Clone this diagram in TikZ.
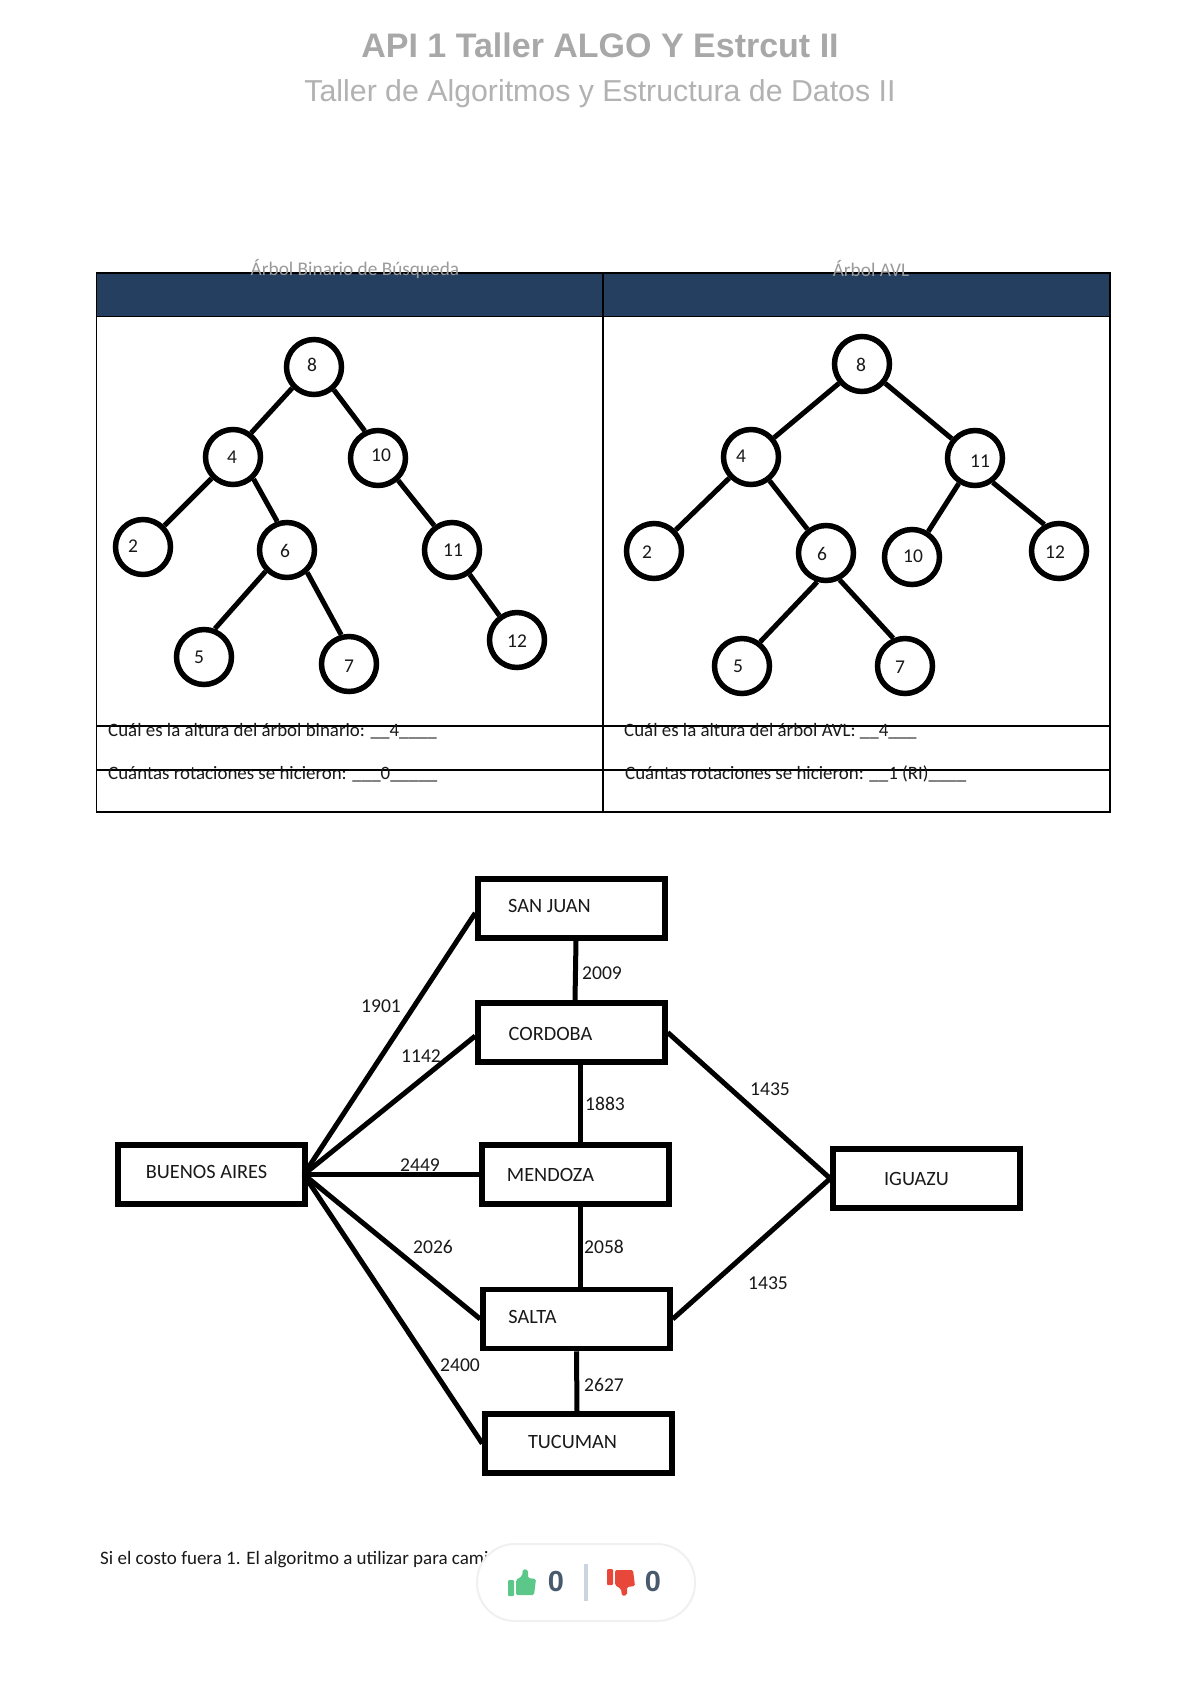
\documentclass[tikz,border=0pt]{standalone}
\usepackage{fontspec}
\setmainfont{Carlito}
\newfontfamily\ttlfont{Liberation Sans}
\newcommand\fsz[1]{\fontsize{#1}{#1}\selectfont}
\newcommand\sh[3]{\smash{\raisebox{\dimexpr #2pt-0.32em\relax}{\makebox[0pt]{\hspace{#1pt}\hspace{#1pt}#3}}}}
\definecolor{navy}{HTML}{243F5F}
\definecolor{ttlgrey}{HTML}{A8A8A8}
\definecolor{subgrey}{HTML}{B2B2B2}
\definecolor{hdrgrey}{HTML}{9A9A9A}
\definecolor{upgreen}{HTML}{5BC88A}
\definecolor{downred}{HTML}{E8483A}
\definecolor{slate}{HTML}{475A6E}
\definecolor{divcol}{HTML}{CBD5E1}
\tikzset{
  treenode/.style={circle,draw=black,line width=5.5pt,fill=white,inner sep=0pt,minimum size=55pt,font=\fsz{19.5},text=black!90},
  treeedge/.style={line width=5pt,black},
  citybox/.style={rectangle,draw=black,line width=5.5pt,fill=white,inner sep=0pt,minimum width=187pt,minimum height=59pt,font=\fsz{20.3},text=black!90},
  road/.style={line width=5pt,black},
  weight/.style={font=\fsz{19.6},text=black!90,inner sep=0pt},
  rowtext/.style={anchor=west,font=\fsz{18.9},text=black!90,inner sep=0pt},
  headtext/.style={font=\fsz{19.3},text=hdrgrey,inner sep=0pt},
  tabline/.style={line width=1.6pt,black},
  rowline/.style={line width=2.6pt,black},
}
\begin{document}
\begin{tikzpicture}[x=1pt,y=-1pt]
\fill[white] (0,0) rectangle (1200,1698);
\useasboundingbox (0,0) rectangle (1200,1698);
% titles
\node[font=\ttlfont\bfseries\fsz{34},text=ttlgrey,inner sep=0pt] (title) at (600,45) {API 1 Taller ALGO Y Estrcut II};
\node[font=\ttlfont\fsz{30.3},text=subgrey,inner sep=0pt] (subtitle) at (600,93.5) {Taller de Algoritmos y Estructura de Datos II};
% table
\fill[navy] (96.5,273) rectangle (1110,316.5);
\draw[tabline] (96.5,273) rectangle (1110,812);
\draw[tabline] (603,273) -- (603,812);
\draw[tabline] (96.5,316.5) -- (1110,316.5);
\draw[rowline] (96.5,726) -- (1110,726);
\draw[rowline] (96.5,770) -- (1110,770);
\node[headtext] (h1) at (355,269) {Árbol Binario de Búsqueda};
\node[headtext] (h2) at (871,269) {Árbol AVL};
\node[rowtext] (q1) at (108,731) {Cuál es la altura del árbol binario: \_\_4\_\_\_\_};
\node[rowtext] (q2) at (108,774) {Cuántas rotaciones se hicieron: \_\_\_0\_\_\_\_\_};
\node[rowtext] (q3) at (624,731) {Cuál es la altura del árbol AVL: \_\_4\_\_\_};
\node[rowtext] (q4) at (625,774) {Cuántas rotaciones se hicieron: \_\_1 (RI)\_\_\_\_};
% BST
\node[treenode] (a8) at (314,367) {\sh{-2}{2}{8}};
\node[treenode] (a4) at (233,457) {\sh{-1}{0}{4}};
\node[treenode] (a10) at (378,458) {\sh{3}{3}{10}};
\node[treenode] (a2) at (143,547) {\sh{-10}{1}{2}};
\node[treenode] (a6) at (287,550) {\sh{-2}{-1}{6}};
\node[treenode] (a11) at (452,550) {\sh{1}{0}{11}};
\node[treenode] (a5) at (204,657) {\sh{-5}{0}{5}};
\node[treenode] (a7) at (349,664) {\sh{0}{-2}{7}};
\node[treenode] (a12) at (517,640) {\sh{0}{-1}{12}};
\draw[treeedge] (a8.224) -- (a4.53);
\draw[treeedge] (a8.311) -- (a10.116);
\draw[treeedge] (a4) -- (a2);
\draw[treeedge] (a4.313) -- (a6.109);
\draw[treeedge] (a10.312) -- (a11.126);
\draw[treeedge] (a6.225) -- (a5.69);
\draw[treeedge] (a6.312) -- (a7.105);
\draw[treeedge] (a11) -- (a12);
% AVL
\node[treenode] (b8) at (862,364) {\sh{-1}{-1}{8}};
\node[treenode] (b4) at (751,457) {\sh{-10}{1}{4}};
\node[treenode] (b11) at (975,458) {\sh{5}{-3}{11}};
\node[treenode] (b2) at (654,551) {\sh{-7}{-1}{2}};
\node[treenode] (b6) at (826,553) {\sh{-4}{-1}{6}};
\node[treenode] (b10) at (912,557) {\sh{1}{1}{10}};
\node[treenode] (b12) at (1059,551) {\sh{-4}{-1}{12}};
\node[treenode] (b5) at (742,666) {\sh{-4}{0}{5}};
\node[treenode] (b7) at (905,666) {\sh{-5}{-1}{7}};
\draw[treeedge] (b8) -- (b4);
\draw[treeedge] (b8) -- (b11);
\draw[treeedge] (b4) -- (b2);
\draw[treeedge] (b4) -- (b6);
\draw[treeedge] (b11) -- (b10);
\draw[treeedge] (b11.306) -- (b12.119);
\draw[treeedge] (b6.253) -- (b5.53);
\draw[treeedge] (b6.297) -- (b7.113);
% graph boxes
\node[citybox] (sj) at (571.5,908.5) {\sh{-22}{3}{SAN JUAN}};
\node[citybox] (co) at (571.5,1032.5) {\sh{-21}{-1}{CORDOBA}};
\node[citybox] (me) at (575.5,1174.5) {\sh{-25}{0}{MENDOZA}};
\node[citybox] (sa) at (576.5,1319) {\sh{-44}{2}{SALTA}};
\node[citybox] (tu) at (578.5,1443.5) {\sh{-6}{2}{TUCUMAN}};
\node[citybox] (ba) at (211.5,1174.5) {\sh{-5}{3}{BUENOS AIRES}};
\node[citybox] (ig) at (926.5,1178.5) {\sh{-10}{0}{IGUAZU}};
% roads
\draw[road] ([xshift=-4pt]ba.east) -- ([yshift=-4.5pt]sj.west);
\draw[road] ([xshift=-4pt]ba.east) -- ([yshift=-3.5pt]co.west);
\draw[road] ([xshift=-4pt]ba.east) -- (me.west);
\draw[road] ([xshift=-4pt]ba.east) -- (sa.west);
\draw[road] ([xshift=-4pt]ba.east) -- (tu.west);
\draw[road] ([xshift=4.5pt]sj.south) -- ([xshift=3.5pt]co.north);
\draw[road] ([xshift=8.5pt]co.south) -- ([xshift=4.5pt]me.north);
\draw[road] ([xshift=4.5pt]me.south) -- ([xshift=3.5pt]sa.north);
\draw[road] (sa.south) -- ([xshift=-1.5pt]tu.north);
\draw[road] (co.east) -- (ig.west);
\draw[road] (sa.east) -- (ig.west);
% weights
\node[weight] (w1) at (381,1006) {1901};
\node[weight] (w2) at (421,1056) {1142};
\node[weight] (w3) at (420,1165) {2449};
\node[weight] (w4) at (433,1247) {2026};
\node[weight] (w5) at (460,1365) {2400};
\node[weight] (w6) at (602,973) {2009};
\node[weight] (w7) at (605,1104) {1883};
\node[weight] (w8) at (604,1247) {2058};
\node[weight] (w9) at (604,1385) {2627};
\node[weight] (w10) at (770,1089) {1435};
\node[weight] (w11) at (768,1283) {1435};
% footer
\node[anchor=west,font=\fsz{19},text=black!90,inner sep=0pt] (foot) at (100,1560) {Si el costo fuera 1. El algoritmo a utilizar para cami};
% reaction pill
\node[draw=black!6,line width=2pt,fill=white,rounded corners=38pt,minimum width=218pt,minimum height=77pt,inner sep=0pt] (pill) at (586,1582.5) {};
\begin{scope}[shift={(522,1583)}]
  \fill[upgreen,rounded corners=1pt] (-14,-3) rectangle (-8,13);
  \fill[upgreen,rounded corners=1.5pt] (-6,-3) -- (0,-7) -- (1,-14) -- (6,-13) -- (6,-5) -- (14,-4) -- (12,12) -- (-6,12) -- cycle;
\end{scope}
\begin{scope}[shift={(621,1582)}]
  \fill[downred,rounded corners=1pt] (-14,3) rectangle (-8,-13);
  \fill[downred,rounded corners=1.5pt] (-6,3) -- (0,7) -- (1,14) -- (6,13) -- (6,5) -- (14,4) -- (12,-12) -- (-6,-12) -- cycle;
\end{scope}
\node[font=\ttlfont\bfseries\fsz{29},text=slate,inner sep=0pt] (upn) at (556,1581) {0};
\node[font=\ttlfont\bfseries\fsz{29},text=slate,inner sep=0pt] (downn) at (653,1581) {0};
\draw[divcol,line width=3.5pt] (586,1564) -- (586,1601);
\end{tikzpicture}
\end{document}
